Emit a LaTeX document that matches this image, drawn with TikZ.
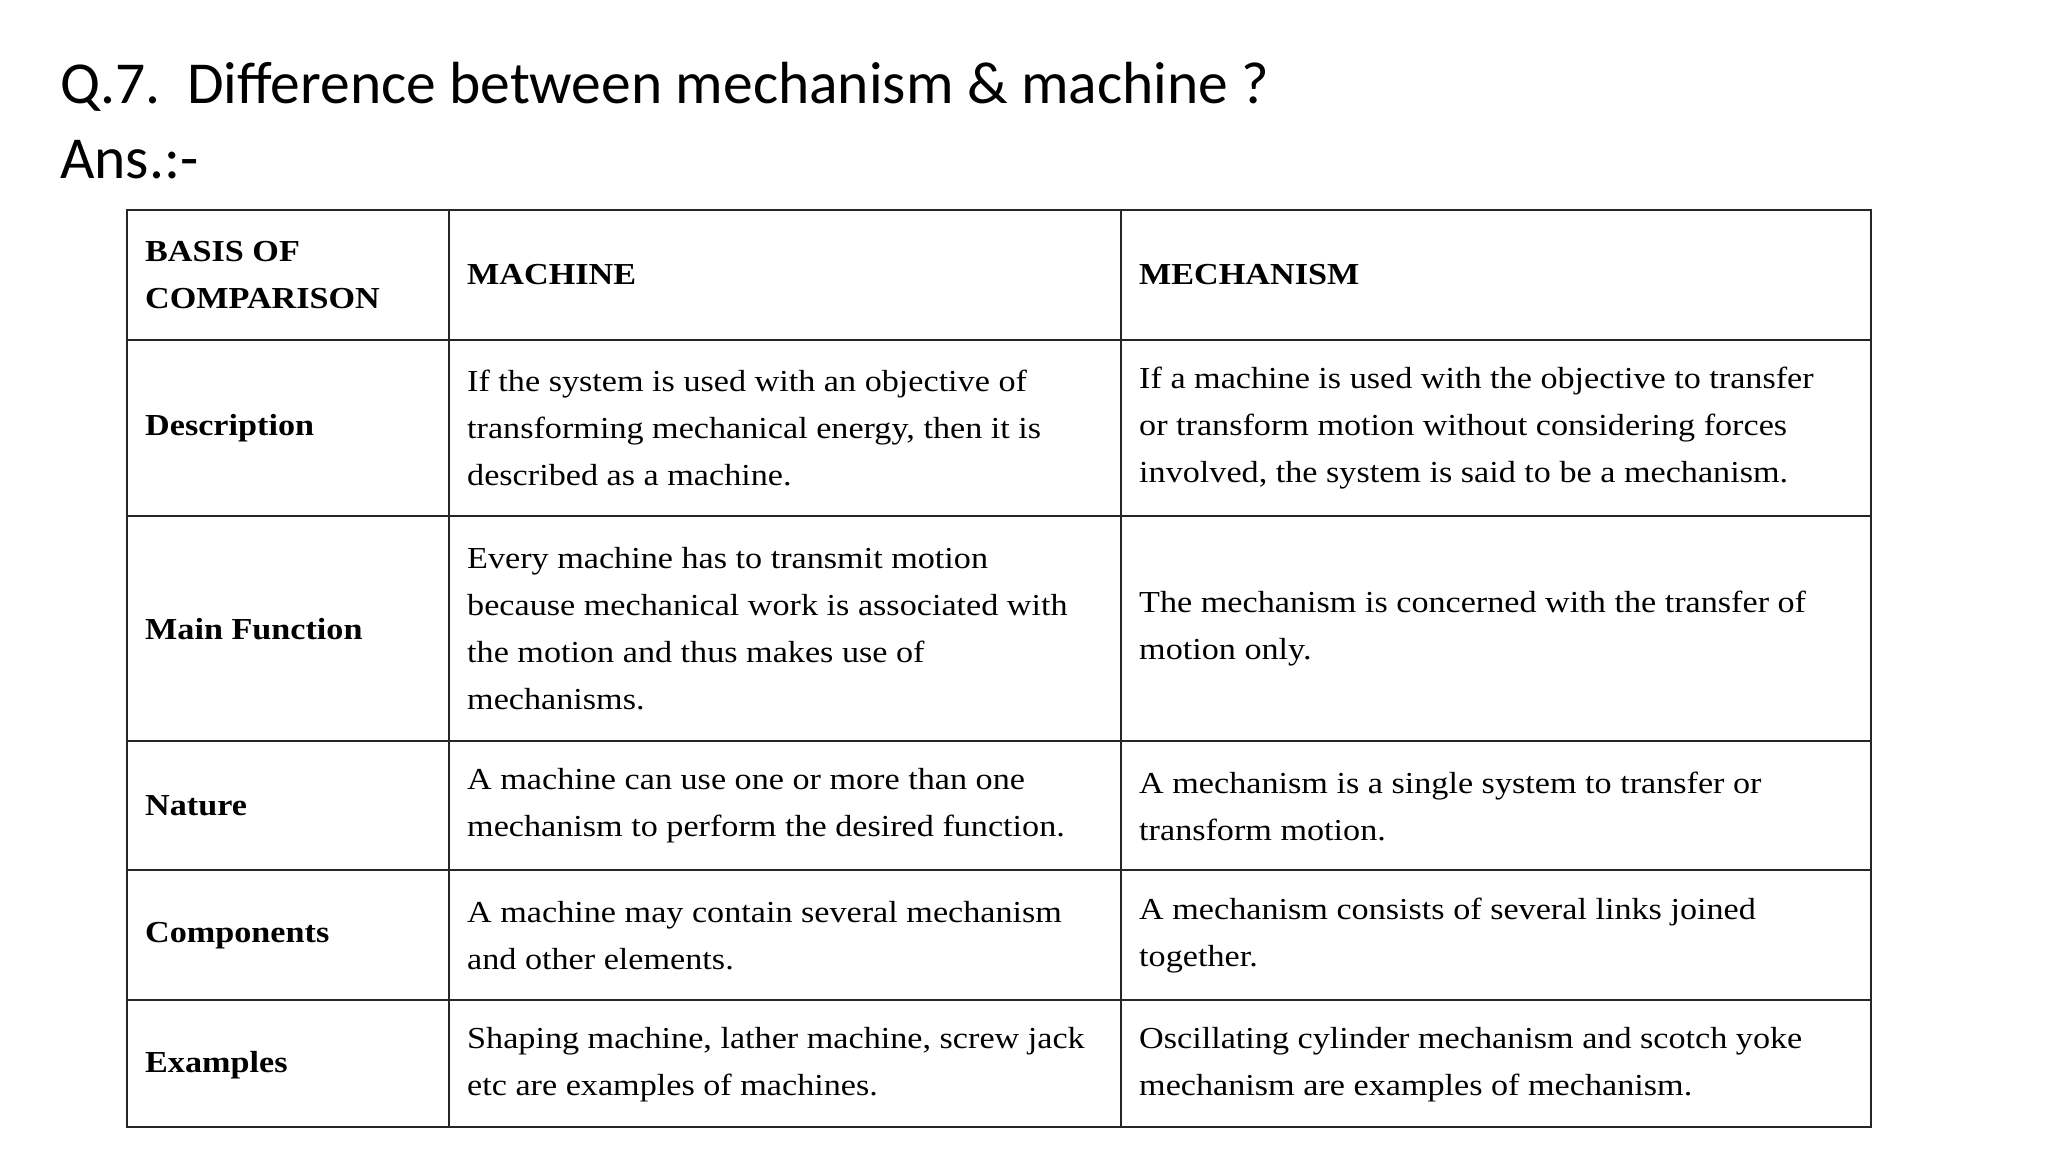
\documentclass[tikz,border=0pt]{standalone}
\usepackage{fontspec}
\setmainfont{Liberation Serif}[FakeStretch=1.12]
\newfontfamily\titlefont{Carlito}
\begin{document}
\begin{tikzpicture}[x=1pt,y=-1pt,
 cell/.style={anchor=west,inner sep=0pt,align=left,font=\fontsize{30.5}{47}\selectfont},
 hcell/.style={cell,font=\fontsize{30.5}{47}\selectfont\bfseries},
 ttl/.style={anchor=west,inner sep=0pt,font=\titlefont\fontsize{59.5}{60}\selectfont}]
\useasboundingbox (0,0) rectangle (2048,1152);
\node[ttl] (t1) at (60,87) {Q.7.\ \ Difference between mechanism \& machine ?};
\node[ttl] (t2) at (60,160) {Ans.:-};
\draw[line width=2pt,draw=black!85] (127,210) rectangle (1871,1127);
\foreach \x in {449,1121} \draw[line width=2pt,draw=black!85] (\x,210) -- (\x,1127);
\foreach \y in {340,516,741,870,1000} \draw[line width=2pt,draw=black!85] (127,\y) -- (1871,\y);
% header
\node[hcell] (h1) at (145,275) {BASIS OF\\COMPARISON};
\node[hcell] (h2) at (467,275) {MACHINE};
\node[hcell] (h3) at (1139,275) {MECHANISM};
% rows
\node[hcell] (r1) at (145,428) {Description};
\node[cell] (r1a) at (467,428) {If the system is used with an objective of\\transforming mechanical energy, then it is\\described as a machine.};
\node[cell] (r1b) at (1139,428) {If a machine is used with the objective to transfer\\or transform motion without considering forces\\involved, the system is said to be a mechanism.};
\node[hcell] (r2) at (145,629) {Main Function};
\node[cell] (r2a) at (467,629) {Every machine has to transmit motion\\because mechanical work is associated with\\the motion and thus makes use of\\mechanisms.};
\node[cell] (r2b) at (1139,629) {The mechanism is concerned with the transfer of\\motion only.};
\node[hcell] (r3) at (145,806) {Nature};
\node[cell] (r3a) at (467,806) {A machine can use one or more than one\\mechanism to perform the desired function.};
\node[cell] (r3b) at (1139,806) {A mechanism is a single system to transfer or\\transform motion.};
\node[hcell] (r4) at (145,936) {Components};
\node[cell] (r4a) at (467,936) {A machine may contain several mechanism\\and other elements.};
\node[cell] (r4b) at (1139,936) {A mechanism consists of several links joined\\together.};
\node[hcell] (r5) at (145,1065) {Examples};
\node[cell] (r5a) at (467,1065) {Shaping machine, lather machine, screw jack\\etc are examples of machines.};
\node[cell] (r5b) at (1139,1065) {Oscillating cylinder mechanism and scotch yoke\\mechanism are examples of mechanism.};
\end{tikzpicture}
\end{document}
